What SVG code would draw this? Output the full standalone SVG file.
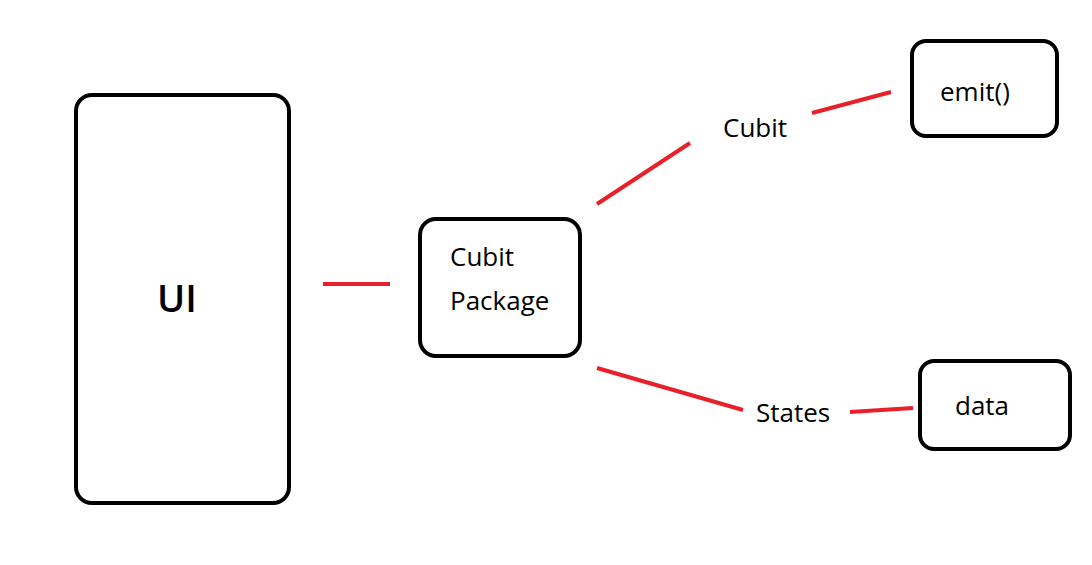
<svg xmlns="http://www.w3.org/2000/svg" width="1092" height="565" viewBox="0 0 1092 565">
<style>
.n{fill:#fff;stroke:#000;stroke-width:4}
.t{font-family:"Open Sans","Liberation Sans",sans-serif;font-size:26px;fill:#000}
.c line{stroke:#e8202a;stroke-width:4}
</style>
<rect width="1092" height="565" fill="#fff"/>
<g id="ui"><rect class="n" x="76" y="95" width="213" height="408" rx="16"/><text class="t" x="157" y="312" style="font-size:38px;font-weight:600">UI</text></g>
<g id="cubitpkg"><rect class="n" x="420" y="219" width="160" height="137" rx="16"/><text class="t" x="450" y="266">Cubit</text><text class="t" x="450" y="310">Package</text></g>
<g id="emit"><rect class="n" x="912" y="41" width="145" height="95" rx="14"/><text class="t" x="940" y="101">emit()</text></g>
<g id="data"><rect class="n" x="920" y="361" width="150" height="88" rx="14"/><text class="t" x="955" y="415">data</text></g>
<g id="lbl-cubit"><text class="t" x="723" y="137">Cubit</text></g>
<g id="lbl-states"><text class="t" x="756" y="422">States</text></g>
<g class="c">
<line x1="323" y1="284" x2="390" y2="284"/>
<line x1="597" y1="204" x2="690" y2="143"/>
<line x1="812" y1="113" x2="891" y2="92"/>
<line x1="597" y1="368" x2="743" y2="410"/>
<line x1="850" y1="412" x2="913" y2="408"/>
</g>
</svg>
